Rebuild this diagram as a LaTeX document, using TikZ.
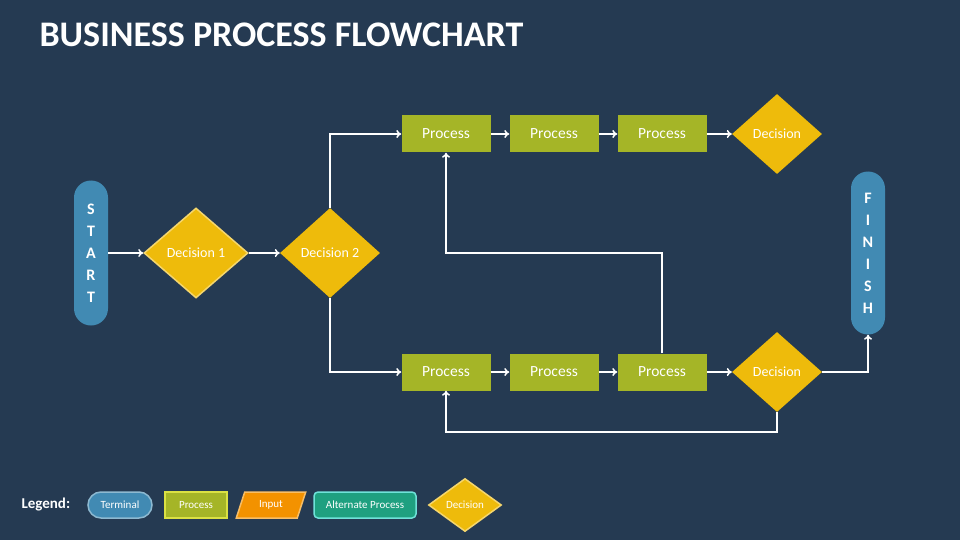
\documentclass[tikz,border=0pt]{standalone}
\usepackage{fontspec}
\setmainfont{Carlito}
\usetikzlibrary{shapes.geometric,arrows.meta}
\definecolor{bg}{HTML}{253A52}
\definecolor{term}{HTML}{418AB3}
\definecolor{proc}{HTML}{A5B527}
\definecolor{inp}{HTML}{F39200}
\definecolor{alt}{HTML}{1FA080}
\definecolor{dec}{HTML}{EEBB0B}
\tikzset{
  terminal/.style={draw=none, fill=term, rounded corners=17pt, minimum width=34pt, text=white, font=\bfseries\fontsize{16}{22}\selectfont, align=center},
  process/.style={fill=proc, minimum width=89pt, minimum height=37pt, text=white, font=\fontsize{15.5}{17}\selectfont},
  decision/.style={diamond, fill=dec, inner sep=0pt, minimum width=90pt, minimum height=80pt, aspect=1.1, text=white, font=\fontsize{14}{16}\selectfont},
  flow/.style={draw=white, line width=1.5pt, -{To[length=5pt,width=8pt]}},
  legend/.style={text=white, font=\fontsize{11}{13}\selectfont, line width=1.5pt, minimum height=26pt}
}
\begin{document}
\begin{tikzpicture}[x=1pt,y=-1pt]
\fill[bg] (0,0) rectangle (960,540);
\useasboundingbox (0,0) rectangle (960,540);
\node[anchor=west, text=white, font=\bfseries\fontsize{36}{40}\selectfont] (title) at (36,35) {BUSINESS PROCESS FLOWCHART};

% start and finish
\node[terminal, minimum height=145pt] (start) at (91,253) {S\\T\\A\\R\\T};
\node[terminal, minimum height=163pt] (finish) at (868,253) {F\\I\\N\\I\\S\\H};

% decisions
\node[decision, draw=dec!60!white, line width=1.5pt, minimum width=104pt, minimum height=90pt] (d1) at (196,253) {Decision 1};
\node[decision, minimum width=100pt, minimum height=90pt] (d2) at (330,253) {Decision 2};

% top row
\node[process] (p1) at (446,134) {Process};
\node[process] (p2) at (554,134) {Process};
\node[process] (p3) at (662,134) {Process};
\node[decision] (d3) at (777,134) {Decision};

% bottom row
\node[process] (p4) at (446,372) {Process};
\node[process] (p5) at (554,372) {Process};
\node[process] (p6) at (662,372) {Process};
\node[decision] (d4) at (777,372) {Decision};

\draw[flow] (start) -- (d1);
\draw[flow] (d1) -- (d2);
\draw[flow] (d2.north) |- (p1);
\draw[flow] (d2.south) |- (p4);
\draw[flow] (p1) -- (p2);
\draw[flow] (p2) -- (p3);
\draw[flow] (p3) -- (d3);
\draw[flow] (p4) -- (p5);
\draw[flow] (p5) -- (p6);
\draw[flow] (p6) -- (d4);
\draw[flow] (p6.north) |- (554,253) -| (p1.south);
\draw[flow] (d4.south) |- (554,432) -| (p4.south);
\draw[flow] (d4.east) -| (finish.south);

% legend
\node[anchor=west, text=white, font=\bfseries\fontsize{15}{17}\selectfont] (leg) at (18,505) {Legend:};
\node[legend, fill=term, draw=term!60!white, rounded corners=13pt, minimum width=64pt] (lt) at (120,505) {Terminal};
\node[legend, fill=proc, draw=proc!50!yellow!80!white, minimum width=62pt] (lp) at (196,505) {Process};
\node[legend, trapezium, trapezium left angle=72, trapezium right angle=108, fill=inp, draw=inp!60!white, minimum width=50pt, inner xsep=4pt, text depth=2pt] (li) at (271,505) {Input};
\node[legend, fill=alt, draw=alt!50!cyan!60!white, rounded corners=4pt, minimum width=102pt] (la) at (365,505) {Alternate Process};
\node[legend, diamond, fill=dec, draw=dec!60!white, inner sep=0pt, minimum width=73pt, minimum height=53pt] (ld) at (465,505) {Decision};
\end{tikzpicture}
\end{document}
